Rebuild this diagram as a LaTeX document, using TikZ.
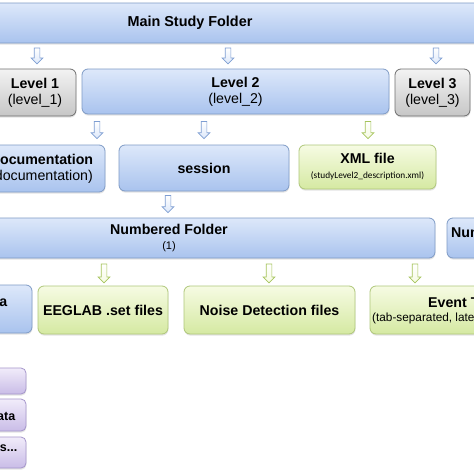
\documentclass[tikz,border=0pt]{standalone}
\usepackage{fontspec}
\setmainfont{Liberation Sans}
\newfontfamily\notefont{Carlito}
\usetikzlibrary{shapes.arrows,shadows}

\definecolor{blueTop}{HTML}{DDE8FA}
\definecolor{blueBot}{HTML}{A9C3EE}
\definecolor{blueLine}{HTML}{7F9BC6}
\definecolor{grayTop}{HTML}{F3F3F3}
\definecolor{grayBot}{HTML}{C6C6C6}
\definecolor{grayLine}{HTML}{6F6F6F}
\definecolor{greenTop}{HTML}{F6FBE3}
\definecolor{greenBot}{HTML}{D5E9A2}
\definecolor{greenLine}{HTML}{AFC77A}
\definecolor{purpleTop}{HTML}{F1ECFA}
\definecolor{purpleBot}{HTML}{C9BCE7}
\definecolor{purpleLine}{HTML}{A596CB}
\definecolor{arrowBlue}{HTML}{7E9ED2}
\definecolor{arrowGreen}{HTML}{A6C45C}

\tikzset{
  box/.style={rounded corners=6pt, line width=0.8pt, align=center, inner sep=0pt,
    font=\fontsize{14.2}{16}\selectfont,
    drop shadow={shadow xshift=0.4pt, shadow yshift=-1.6pt, opacity=0.22}},
  bluebox/.style={box, draw=blueLine, top color=blueTop, bottom color=blueBot},
  graybox/.style={box, draw=grayLine, top color=grayTop, bottom color=grayBot},
  greenbox/.style={box, draw=greenLine, top color=greenTop, bottom color=greenBot},
  purplebox/.style={box, rounded corners=5pt, draw=purpleLine, top color=purpleTop, bottom color=purpleBot},
  label/.style={inner sep=0pt, font=\fontsize{14.2}{16}\selectfont\bfseries},
  flow/.style={single arrow, shape border rotate=270, inner sep=2.5pt,
    single arrow head extend=3pt, line width=0.7pt},
  blueflow/.style={flow, draw=arrowBlue, top color=white, bottom color=blueTop},
  greenflow/.style={flow, draw=arrowGreen, top color=white, bottom color=greenTop},
}

\begin{document}
\begin{tikzpicture}[x=1pt,y=-1pt]
\useasboundingbox (0,0) rectangle (474,474);
\clip (0,0) rectangle (474,474);
\fill[white] (0,0) rectangle (474,474);

% top level folder
\node[bluebox, minimum width=580pt, minimum height=40pt,
  font=\fontsize{14.4}{16}\selectfont\bfseries] (main) at (190,23) {Main Study Folder};

% study levels
\node[graybox, minimum width=82pt, minimum height=47pt] (lv1) at (35,92.5)
  {\textbf{Level 1}\\(level\_1)};
\node[bluebox, minimum width=307pt, minimum height=45pt] (lv2) at (235.5,91.5)
  {\textbf{Level 2}\\(level\_2)};
\node[graybox, minimum width=75pt, minimum height=47pt] (lv3) at (432.5,92.5)
  {\textbf{Level 3}\\(level\_3)};

% contents of level 2
\node[bluebox, minimum width=127pt, minimum height=47pt] (doc) at (41.5,168.5)
  {\textbf{Documentation}\\(documentation)};
\node[bluebox, minimum width=170pt, minimum height=46pt, font=\fontsize{14.2}{16}\selectfont\bfseries]
  (ses) at (204,168) {session};
\node[greenbox, minimum width=137pt, minimum height=44pt] (xml) at (367.5,167)
  {\textbf{XML file}\\[-1pt]{\notefont\fontsize{9.3}{11}\selectfont (studyLevel2\_description.xml)}};

% numbered session folders
\node[bluebox, minimum width=532pt, minimum height=40pt] (num) at (169,238)
  {\textbf{Numbered Folder}\\[-1.5pt]{\fontsize{11}{12}\selectfont (1)}};
\node[bluebox, minimum width=120pt, minimum height=40pt] (num2) at (507,238) {};
\node[label, anchor=west] (num2txt) at (451,232) {Numbered Folder};

% files inside a numbered folder
\node[bluebox, minimum width=112pt, minimum height=48pt] (raw) at (-24,309) {};
\node[label, anchor=east] (rawtxt) at (7.5,303) {a};
\node[greenbox, minimum width=130pt, minimum height=48pt, font=\fontsize{14.2}{16}\selectfont\bfseries]
  (eeg) at (103,310) {EEGLAB .set files};
\node[greenbox, minimum width=171pt, minimum height=48pt, font=\fontsize{14.2}{16}\selectfont\bfseries]
  (noise) at (269.5,310) {Noise Detection files};
\node[greenbox, minimum width=230pt, minimum height=48pt] (evt) at (485,310) {};
\node[label, anchor=west] (evttxt) at (428,303) {Event T};
\node[inner sep=0pt, anchor=west, font=\fontsize{11.8}{14}\selectfont] (evtsub) at (372,318)
  {(tab-separated, later};

% lower purple items
\node[purplebox, minimum width=92pt, minimum height=26pt] (p1) at (-20,381) {};
\node[purplebox, minimum width=92pt, minimum height=32pt] (p2) at (-20,415) {};
\node[label, anchor=east, font=\fontsize{12.5}{14}\selectfont\bfseries] (p2txt) at (15.5,416) {ata};
\node[purplebox, minimum width=92pt, minimum height=31pt] (p3) at (-20,452.5) {};
\node[label, anchor=east, font=\fontsize{12.5}{14}\selectfont\bfseries] (p3txt) at (17.5,448) {s...};

% connectors
\coordinate (x37) at (37,0);
\coordinate (x228) at (228,0);
\coordinate (x436) at (436,0);
\coordinate (x97) at (97,0);
\coordinate (x204) at (204,0);
\coordinate (x368) at (368,0);
\coordinate (x168) at (168,0);
\coordinate (x104) at (104,0);
\coordinate (x269) at (269,0);
\coordinate (x415) at (415,0);

\path (main.south -| x37) -- node[pos=0.44, blueflow, minimum height=16pt] (a1) {} (lv1.north -| x37);
\path (main.south -| x228) -- node[pos=0.44, blueflow, minimum height=16pt] (a2) {} (lv2.north -| x228);
\path (main.south -| x436) -- node[pos=0.44, blueflow, minimum height=16pt] (a3) {} (lv3.north -| x436);
\path (lv2.south -| x97) -- node[pos=0.47, blueflow, minimum height=17pt] (a4) {} (doc.north -| x97);
\path (lv2.south -| x204) -- node[pos=0.47, blueflow, minimum height=17pt] (a5) {} (ses.north -| x204);
\path (lv2.south -| x368) -- node[pos=0.47, greenflow, minimum height=17pt] (a6) {} (xml.north -| x368);
\path (ses.south -| x168) -- node[pos=0.43, blueflow, minimum height=17pt] (a7) {} (num.north -| x168);
\path (num.south -| x104) -- node[pos=0.5, greenflow, minimum height=19pt] (a8) {} (eeg.north -| x104);
\path (num.south -| x269) -- node[pos=0.5, greenflow, minimum height=19pt] (a9) {} (noise.north -| x269);
\path (num.south -| x415) -- node[pos=0.5, greenflow, minimum height=19pt] (a10) {} (evt.north -| x415);
\end{tikzpicture}
\end{document}
